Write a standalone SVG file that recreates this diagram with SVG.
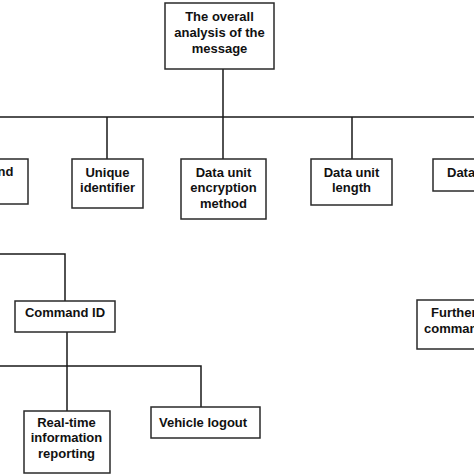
<svg xmlns="http://www.w3.org/2000/svg" width="474" height="474" viewBox="0 0 474 474">
<style>
.box{fill:#fff;stroke:#2a2a2a;stroke-width:1.5}
.ln{fill:none;stroke:#1a1a1a;stroke-width:1.5}
text{font-family:"Liberation Sans",Arial,sans-serif;font-weight:bold;font-size:13px;fill:#111}
.c{text-anchor:middle}
</style>
<rect width="474" height="474" fill="#fff"/>
<g id="connectors">
<path class="ln" d="M223,69 V117 M0,117 H474 M107,117 V159 M223,117 V159 M352,117 V159"/>
<path class="ln" d="M0,254 H65 V301"/>
<path class="ln" d="M67,332 V411 M0,366 H201 V407"/>
</g>
<g id="root"><rect class="box" x="165" y="3" width="109" height="66"/>
<text class="c" x="219.5" y="21">The overall</text>
<text class="c" x="219.5" y="37">analysis of the</text>
<text class="c" x="219.5" y="53">message</text></g>
<g id="command"><rect class="box" x="-60" y="159" width="88" height="45"/>
<text x="13.5" y="176" text-anchor="end">Command</text></g>
<g id="unique"><rect class="box" x="72" y="159" width="71" height="49"/>
<text class="c" x="107.5" y="177">Unique</text>
<text class="c" x="107.5" y="192">identifier</text></g>
<g id="encryption"><rect class="box" x="181" y="159" width="85" height="60"/>
<text class="c" x="223.5" y="177">Data unit</text>
<text class="c" x="223.5" y="192">encryption</text>
<text class="c" x="223.5" y="208">method</text></g>
<g id="length"><rect class="box" x="311" y="159" width="81" height="46"/>
<text class="c" x="351.5" y="177">Data unit</text>
<text class="c" x="351.5" y="192">length</text></g>
<g id="data"><rect class="box" x="433" y="159" width="80" height="32"/>
<text x="447" y="177">Data</text></g>
<g id="commandid"><rect class="box" x="15" y="301" width="100" height="31"/>
<text class="c" x="65" y="317">Command ID</text></g>
<g id="further"><rect class="box" x="417" y="300" width="80" height="49"/>
<text x="431" y="317">Further</text>
<text x="424" y="333">command</text></g>
<g id="realtime"><rect class="box" x="24" y="411" width="86" height="62"/>
<text class="c" x="66.5" y="427">Real-time</text>
<text class="c" x="66.5" y="442">information</text>
<text class="c" x="66.5" y="458">reporting</text></g>
<g id="logout"><rect class="box" x="151" y="407" width="109" height="31"/>
<text x="159" y="427">Vehicle logout</text></g>
</svg>
